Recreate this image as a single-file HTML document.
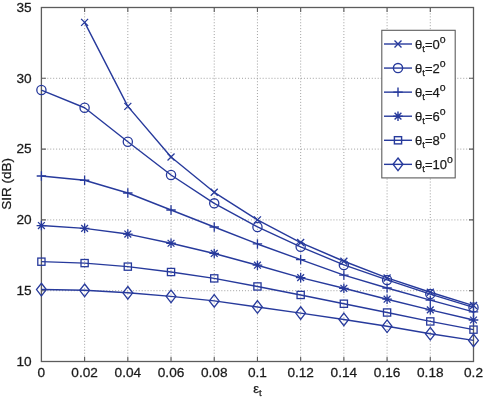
<!DOCTYPE html>
<html><head><meta charset="utf-8"><title>SIR vs epsilon</title>
<style>html,body{margin:0;padding:0;background:#fff}svg{display:block;font-family:"Liberation Sans",sans-serif}text{stroke:#1a1a1a;stroke-width:.25px}</style>
</head><body>
<svg width="483" height="400" viewBox="0 0 483 400" font-size="13" fill="#1a1a1a">
<rect width="483" height="400" fill="#fff"/>
<g stroke="#969696" stroke-width="0.9" stroke-dasharray="1 1.95" fill="none">
<path d="M84.61 7.5V361.5"/>
<path d="M127.82 7.5V361.5"/>
<path d="M171.03 7.5V361.5"/>
<path d="M214.24 7.5V361.5"/>
<path d="M257.45 7.5V361.5"/>
<path d="M300.66 7.5V361.5"/>
<path d="M343.87 7.5V361.5"/>
<path d="M387.08 7.5V361.5"/>
<path d="M430.29 7.5V361.5"/>
<path d="M41.4 290.70H473.5"/>
<path d="M41.4 219.90H473.5"/>
<path d="M41.4 149.10H473.5"/>
<path d="M41.4 78.30H473.5"/>
</g>
<rect x="41.4" y="7.5" width="432.1" height="354.0" fill="none" stroke="#5c5c5c" stroke-width="1.3"/>
<g stroke="#5c5c5c" stroke-width="1.1" fill="none">
<path d="M84.61 361.5v-4.5M84.61 7.5v4.5"/>
<path d="M127.82 361.5v-4.5M127.82 7.5v4.5"/>
<path d="M171.03 361.5v-4.5M171.03 7.5v4.5"/>
<path d="M214.24 361.5v-4.5M214.24 7.5v4.5"/>
<path d="M257.45 361.5v-4.5M257.45 7.5v4.5"/>
<path d="M300.66 361.5v-4.5M300.66 7.5v4.5"/>
<path d="M343.87 361.5v-4.5M343.87 7.5v4.5"/>
<path d="M387.08 361.5v-4.5M387.08 7.5v4.5"/>
<path d="M430.29 361.5v-4.5M430.29 7.5v4.5"/>
<path d="M41.4 290.70h4.5M473.5 290.70h-4.5"/>
<path d="M41.4 219.90h4.5M473.5 219.90h-4.5"/>
<path d="M41.4 149.10h4.5M473.5 149.10h-4.5"/>
<path d="M41.4 78.30h4.5M473.5 78.30h-4.5"/>
</g>
<g text-anchor="end">
<text transform="translate(31.6 365.80) scale(1.05 1)">10</text>
<text transform="translate(31.6 295.00) scale(1.05 1)">15</text>
<text transform="translate(31.6 224.20) scale(1.05 1)">20</text>
<text transform="translate(31.6 153.40) scale(1.05 1)">25</text>
<text transform="translate(31.6 82.60) scale(1.05 1)">30</text>
<text transform="translate(31.6 11.80) scale(1.05 1)">35</text>
</g>
<g text-anchor="middle">
<text transform="translate(41.40 377) scale(1.05 1)">0</text>
<text transform="translate(84.61 377) scale(1.05 1)">0.02</text>
<text transform="translate(127.82 377) scale(1.05 1)">0.04</text>
<text transform="translate(171.03 377) scale(1.05 1)">0.06</text>
<text transform="translate(214.24 377) scale(1.05 1)">0.08</text>
<text transform="translate(257.45 377) scale(1.05 1)">0.1</text>
<text transform="translate(300.66 377) scale(1.05 1)">0.12</text>
<text transform="translate(343.87 377) scale(1.05 1)">0.14</text>
<text transform="translate(387.08 377) scale(1.05 1)">0.16</text>
<text transform="translate(430.29 377) scale(1.05 1)">0.18</text>
<text transform="translate(473.50 377) scale(1.05 1)">0.2</text>
</g>
<text x="253.3" y="392.6">ε<tspan dy="3" font-size="9.5">t</tspan></text>
<text transform="translate(10.6 183.8) rotate(-90) scale(1.04 1)" text-anchor="middle">SIR (dB)</text>
<g stroke="#273a9c" stroke-width="1.4" fill="none" stroke-linejoin="round">
<polyline points="84.61,22.37 127.82,106.34 171.03,157.03 214.24,192.29 257.45,219.90 300.66,242.56 343.87,261.25 387.08,277.96 430.29,292.26 473.50,305.57"/>
<polyline points="41.40,90.05 84.61,107.75 127.82,141.74 171.03,175.01 214.24,203.33 257.45,226.98 300.66,246.80 343.87,264.93 387.08,279.94 430.29,294.10 473.50,307.41"/>
<polyline points="41.40,176.00 84.61,180.25 127.82,193.00 171.03,209.99 214.24,226.98 257.45,243.97 300.66,259.55 343.87,275.12 387.08,288.01 430.29,300.19 473.50,311.94"/>
<polyline points="41.40,225.56 84.61,228.40 127.82,234.06 171.03,243.26 214.24,253.46 257.45,265.21 300.66,277.67 343.87,288.29 387.08,299.20 430.29,309.82 473.50,320.01"/>
<polyline points="41.40,261.67 84.61,263.09 127.82,266.63 171.03,272.01 214.24,278.38 257.45,286.45 300.66,294.95 343.87,303.73 387.08,312.51 430.29,321.43 473.50,329.64"/>
<polyline points="41.40,289.57 84.61,290.28 127.82,292.82 171.03,296.36 214.24,300.90 257.45,306.98 300.66,313.07 343.87,319.44 387.08,326.24 430.29,333.75 473.50,340.40"/>
</g>
<g stroke="#273a9c" stroke-width="1.3" fill="none">
<path d="M81.11 18.87L88.11 25.87M81.11 25.87L88.11 18.87"/>
<path d="M124.32 102.84L131.32 109.84M124.32 109.84L131.32 102.84"/>
<path d="M167.53 153.53L174.53 160.53M167.53 160.53L174.53 153.53"/>
<path d="M210.74 188.79L217.74 195.79M210.74 195.79L217.74 188.79"/>
<path d="M253.95 216.40L260.95 223.40M253.95 223.40L260.95 216.40"/>
<path d="M297.16 239.06L304.16 246.06M297.16 246.06L304.16 239.06"/>
<path d="M340.37 257.75L347.37 264.75M340.37 264.75L347.37 257.75"/>
<path d="M383.58 274.46L390.58 281.46M383.58 281.46L390.58 274.46"/>
<path d="M426.79 288.76L433.79 295.76M426.79 295.76L433.79 288.76"/>
<path d="M470.00 302.07L477.00 309.07M470.00 309.07L477.00 302.07"/>
<circle cx="41.40" cy="90.05" r="4.6" fill="none"/>
<circle cx="84.61" cy="107.75" r="4.6" fill="none"/>
<circle cx="127.82" cy="141.74" r="4.6" fill="none"/>
<circle cx="171.03" cy="175.01" r="4.6" fill="none"/>
<circle cx="214.24" cy="203.33" r="4.6" fill="none"/>
<circle cx="257.45" cy="226.98" r="4.6" fill="none"/>
<circle cx="300.66" cy="246.80" r="4.6" fill="none"/>
<circle cx="343.87" cy="264.93" r="4.6" fill="none"/>
<circle cx="387.08" cy="279.94" r="4.6" fill="none"/>
<circle cx="430.29" cy="294.10" r="4.6" fill="none"/>
<circle cx="473.50" cy="307.41" r="4.6" fill="none"/>
<path d="M36.70 176.00H46.10M41.40 171.30V180.70"/>
<path d="M79.91 180.25H89.31M84.61 175.55V184.95"/>
<path d="M123.12 193.00H132.52M127.82 188.30V197.70"/>
<path d="M166.33 209.99H175.73M171.03 205.29V214.69"/>
<path d="M209.54 226.98H218.94M214.24 222.28V231.68"/>
<path d="M252.75 243.97H262.15M257.45 239.27V248.67"/>
<path d="M295.96 259.55H305.36M300.66 254.85V264.25"/>
<path d="M339.17 275.12H348.57M343.87 270.42V279.82"/>
<path d="M382.38 288.01H391.78M387.08 283.31V292.71"/>
<path d="M425.59 300.19H434.99M430.29 295.49V304.89"/>
<path d="M468.80 311.94H478.20M473.50 307.24V316.64"/>
<path d="M36.60 225.56H46.20M41.40 220.76V230.36M38.00 222.16L44.80 228.96M38.00 228.96L44.80 222.16"/>
<path d="M79.81 228.40H89.41M84.61 223.60V233.20M81.21 225.00L88.01 231.80M81.21 231.80L88.01 225.00"/>
<path d="M123.02 234.06H132.62M127.82 229.26V238.86M124.42 230.66L131.22 237.46M124.42 237.46L131.22 230.66"/>
<path d="M166.23 243.26H175.83M171.03 238.46V248.06M167.63 239.86L174.43 246.66M167.63 246.66L174.43 239.86"/>
<path d="M209.44 253.46H219.04M214.24 248.66V258.26M210.84 250.06L217.64 256.86M210.84 256.86L217.64 250.06"/>
<path d="M252.65 265.21H262.25M257.45 260.41V270.01M254.05 261.81L260.85 268.61M254.05 268.61L260.85 261.81"/>
<path d="M295.86 277.67H305.46M300.66 272.87V282.47M297.26 274.27L304.06 281.07M297.26 281.07L304.06 274.27"/>
<path d="M339.07 288.29H348.67M343.87 283.49V293.09M340.47 284.89L347.27 291.69M340.47 291.69L347.27 284.89"/>
<path d="M382.28 299.20H391.88M387.08 294.40V304.00M383.68 295.80L390.48 302.60M383.68 302.60L390.48 295.80"/>
<path d="M425.49 309.82H435.09M430.29 305.02V314.62M426.89 306.42L433.69 313.22M426.89 313.22L433.69 306.42"/>
<path d="M468.70 320.01H478.30M473.50 315.21V324.81M470.10 316.61L476.90 323.41M470.10 323.41L476.90 316.61"/>
<rect x="37.80" y="258.07" width="7.20" height="7.20" fill="none"/>
<rect x="81.01" y="259.49" width="7.20" height="7.20" fill="none"/>
<rect x="124.22" y="263.03" width="7.20" height="7.20" fill="none"/>
<rect x="167.43" y="268.41" width="7.20" height="7.20" fill="none"/>
<rect x="210.64" y="274.78" width="7.20" height="7.20" fill="none"/>
<rect x="253.85" y="282.85" width="7.20" height="7.20" fill="none"/>
<rect x="297.06" y="291.35" width="7.20" height="7.20" fill="none"/>
<rect x="340.27" y="300.13" width="7.20" height="7.20" fill="none"/>
<rect x="383.48" y="308.91" width="7.20" height="7.20" fill="none"/>
<rect x="426.69" y="317.83" width="7.20" height="7.20" fill="none"/>
<rect x="469.90" y="326.04" width="7.20" height="7.20" fill="none"/>
<path d="M41.40 283.27L46.30 289.57L41.40 295.87L36.50 289.57Z" fill="none"/>
<path d="M84.61 283.98L89.51 290.28L84.61 296.58L79.71 290.28Z" fill="none"/>
<path d="M127.82 286.52L132.72 292.82L127.82 299.12L122.92 292.82Z" fill="none"/>
<path d="M171.03 290.06L175.93 296.36L171.03 302.66L166.13 296.36Z" fill="none"/>
<path d="M214.24 294.60L219.14 300.90L214.24 307.20L209.34 300.90Z" fill="none"/>
<path d="M257.45 300.68L262.35 306.98L257.45 313.28L252.55 306.98Z" fill="none"/>
<path d="M300.66 306.77L305.56 313.07L300.66 319.37L295.76 313.07Z" fill="none"/>
<path d="M343.87 313.14L348.77 319.44L343.87 325.74L338.97 319.44Z" fill="none"/>
<path d="M387.08 319.94L391.98 326.24L387.08 332.54L382.18 326.24Z" fill="none"/>
<path d="M430.29 327.45L435.19 333.75L430.29 340.05L425.39 333.75Z" fill="none"/>
<path d="M473.50 334.10L478.40 340.40L473.50 346.70L468.60 340.40Z" fill="none"/>
</g>
<rect x="381.8" y="30.3" width="73.4" height="147.6" fill="#fff" stroke="#5c5c5c" stroke-width="1.1"/>
<g stroke="#273a9c" stroke-width="1.4" fill="none"><path d="M384 44.00H412"/><path d="M394.50 40.50L401.50 47.50M394.50 47.50L401.50 40.50"/></g>
<text x="415" y="48.50">θ<tspan dy="3" font-size="9.5">t</tspan><tspan dy="-3">=0</tspan><tspan dy="-5.8" font-size="10.5">o</tspan></text>
<g stroke="#273a9c" stroke-width="1.4" fill="none"><path d="M384 68.07H412"/><circle cx="398.00" cy="68.07" r="4.6" fill="none"/></g>
<text x="415" y="72.57">θ<tspan dy="3" font-size="9.5">t</tspan><tspan dy="-3">=2</tspan><tspan dy="-5.8" font-size="10.5">o</tspan></text>
<g stroke="#273a9c" stroke-width="1.4" fill="none"><path d="M384 92.14H412"/><path d="M393.30 92.14H402.70M398.00 87.44V96.84"/></g>
<text x="415" y="96.64">θ<tspan dy="3" font-size="9.5">t</tspan><tspan dy="-3">=4</tspan><tspan dy="-5.8" font-size="10.5">o</tspan></text>
<g stroke="#273a9c" stroke-width="1.4" fill="none"><path d="M384 116.21H412"/><path d="M393.20 116.21H402.80M398.00 111.41V121.01M394.60 112.81L401.40 119.61M394.60 119.61L401.40 112.81"/></g>
<text x="415" y="120.71">θ<tspan dy="3" font-size="9.5">t</tspan><tspan dy="-3">=6</tspan><tspan dy="-5.8" font-size="10.5">o</tspan></text>
<g stroke="#273a9c" stroke-width="1.4" fill="none"><path d="M384 140.28H412"/><rect x="394.40" y="136.68" width="7.20" height="7.20" fill="none"/></g>
<text x="415" y="144.78">θ<tspan dy="3" font-size="9.5">t</tspan><tspan dy="-3">=8</tspan><tspan dy="-5.8" font-size="10.5">o</tspan></text>
<g stroke="#273a9c" stroke-width="1.4" fill="none"><path d="M384 164.35H412"/><path d="M398.00 158.05L402.90 164.35L398.00 170.65L393.10 164.35Z" fill="none"/></g>
<text x="415" y="168.85">θ<tspan dy="3" font-size="9.5">t</tspan><tspan dy="-3">=10</tspan><tspan dy="-5.8" font-size="10.5">o</tspan></text>
</svg>
</body></html>
